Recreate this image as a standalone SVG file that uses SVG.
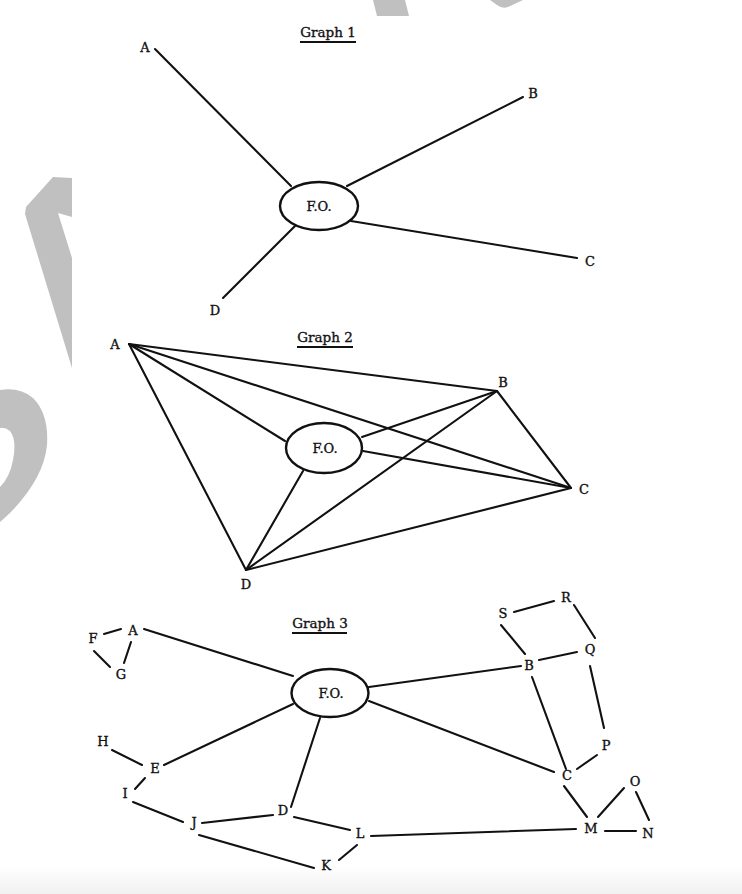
<svg xmlns="http://www.w3.org/2000/svg" width="742" height="894" viewBox="0 0 742 894">
<defs>
<linearGradient id="band" x1="0" y1="0" x2="0" y2="1">
<stop offset="0" stop-color="#ffffff"/>
<stop offset="1" stop-color="#f1f1f1"/>
</linearGradient>
</defs>
<style>
.lbl{font-family:"DejaVu Serif","Liberation Serif",serif;font-size:13px;fill:#111;stroke:#111;stroke-width:0.35;text-anchor:middle}
.ttl{font-family:"DejaVu Serif","Liberation Serif",serif;font-size:13.5px;fill:#111;stroke:#111;stroke-width:0.35;text-anchor:middle}
.ul{stroke:#111;stroke-width:2.2}
.e{stroke:#111;stroke-width:2.1;fill:none;stroke-linecap:round}
.fo{fill:#fff;stroke:#111;stroke-width:2.4}
.wm{fill:#c0c0c0}
</style>
<rect width="742" height="894" fill="#fff"/>
<rect x="0" y="866" width="742" height="28" fill="url(#band)"/>
<g id="watermark">
<polygon class="wm" points="373,0 405,0 409,16 377,16"/>
<path class="wm" d="M490,0 L523,0 L508,7 Q502,9 497,5 Z"/>
<polygon class="wm" points="25,214 26,207 53,177 72,178 72,217 58,213 72,258 72,368"/>
<path class="wm" d="M0,390 Q20,387 33,398 Q49,414 47,445 Q44,478 10,513 L0,522 L0,487 Q10,477 13,460 Q17,440 10,431 Q5,427 0,428 Z"/>
</g>
<g id="connectors">
<!-- Graph 1 -->
<line class="e" x1="155" y1="49" x2="291" y2="186"/>
<line class="e" x1="523" y1="97" x2="347" y2="186"/>
<line class="e" x1="351" y1="221" x2="577" y2="258"/>
<line class="e" x1="295" y1="226" x2="223" y2="298"/>
<!-- Graph 2 -->
<line class="e" x1="129" y1="344" x2="497" y2="391"/>
<line class="e" x1="129" y1="344" x2="571" y2="488"/>
<line class="e" x1="129" y1="344" x2="285" y2="441"/>
<line class="e" x1="129" y1="344" x2="246" y2="570"/>
<line class="e" x1="497" y1="391" x2="571" y2="488" stroke-width="3"/>
<line class="e" x1="497" y1="391" x2="362" y2="437"/>
<line class="e" x1="497" y1="391" x2="246" y2="570"/>
<line class="e" x1="363" y1="451" x2="571" y2="488"/>
<line class="e" x1="303" y1="471" x2="246" y2="570"/>
<line class="e" x1="246" y1="570" x2="571" y2="488"/>
<!-- Graph 3 -->
<line class="e" x1="104" y1="634" x2="121" y2="629"/>
<line class="e" x1="131" y1="642" x2="124" y2="663"/>
<line class="e" x1="94" y1="651" x2="110" y2="667"/>
<line class="e" x1="144" y1="629" x2="293" y2="676"/>
<line class="e" x1="369" y1="687" x2="521" y2="666"/>
<line class="e" x1="514" y1="612" x2="554" y2="601"/>
<line class="e" x1="574" y1="605" x2="595" y2="638"/>
<line class="e" x1="501" y1="625" x2="525" y2="654"/>
<line class="e" x1="539" y1="660" x2="577" y2="652"/>
<line class="e" x1="532" y1="677" x2="566" y2="769"/>
<line class="e" x1="590" y1="666" x2="604" y2="728"/>
<line class="e" x1="577" y1="769" x2="597" y2="755"/>
<line class="e" x1="369" y1="701" x2="554" y2="772"/>
<line class="e" x1="564" y1="786" x2="587" y2="817"/>
<line class="e" x1="598" y1="817" x2="624" y2="788"/>
<line class="e" x1="636" y1="792" x2="649" y2="820"/>
<line class="e" x1="605" y1="831" x2="636" y2="831"/>
<line class="e" x1="371" y1="836" x2="576" y2="829"/>
<line class="e" x1="320" y1="718" x2="291" y2="807"/>
<line class="e" x1="294" y1="817" x2="350" y2="830"/>
<line class="e" x1="202" y1="823" x2="273" y2="815"/>
<line class="e" x1="133" y1="802" x2="183" y2="822"/>
<line class="e" x1="145" y1="778" x2="135" y2="789"/>
<line class="e" x1="112" y1="750" x2="142" y2="765"/>
<line class="e" x1="164" y1="765" x2="293" y2="704"/>
<line class="e" x1="199" y1="835" x2="314" y2="868"/>
<line class="e" x1="339" y1="860" x2="357" y2="845"/>
</g>
<g id="graph1">
<g id="g1-title"><text class="ttl" x="328" y="37">Graph 1</text><line class="ul" x1="300" y1="42" x2="356" y2="42"/></g>
<g id="g1-FO"><ellipse class="fo" cx="319" cy="206" rx="39" ry="24"/><text class="lbl" x="319" y="211">F.O.</text></g>
<g id="g1-A"><text class="lbl" x="145" y="52">A</text></g>
<g id="g1-B"><text class="lbl" x="533" y="98">B</text></g>
<g id="g1-C"><text class="lbl" x="590" y="266">C</text></g>
<g id="g1-D"><text class="lbl" x="215" y="315">D</text></g>
</g>
<g id="graph2">
<g id="g2-title"><text class="ttl" x="325" y="342">Graph 2</text><line class="ul" x1="297" y1="347" x2="353" y2="347"/></g>
<g id="g2-FO"><ellipse class="fo" cx="324" cy="448" rx="38" ry="25"/><text class="lbl" x="325" y="453">F.O.</text></g>
<g id="g2-A"><text class="lbl" x="115" y="349">A</text></g>
<g id="g2-B"><text class="lbl" x="503" y="387">B</text></g>
<g id="g2-C"><text class="lbl" x="584" y="494">C</text></g>
<g id="g2-D"><text class="lbl" x="246" y="589">D</text></g>
</g>
<g id="graph3">
<g id="g3-title"><text class="ttl" x="320" y="628">Graph 3</text><line class="ul" x1="292" y1="633" x2="347" y2="633"/></g>
<g id="g3-FO"><ellipse class="fo" cx="330" cy="693" rx="38.5" ry="24"/><text class="lbl" x="331" y="698">F.O.</text></g>
<g id="g3-A"><text class="lbl" x="133" y="635">A</text></g>
<g id="g3-F"><text class="lbl" x="93" y="643">F</text></g>
<g id="g3-G"><text class="lbl" x="121" y="679">G</text></g>
<g id="g3-H"><text class="lbl" x="103" y="746">H</text></g>
<g id="g3-E"><text class="lbl" x="155" y="773">E</text></g>
<g id="g3-I"><text class="lbl" x="125" y="798">I</text></g>
<g id="g3-J"><text class="lbl" x="194" y="827">J</text></g>
<g id="g3-D"><text class="lbl" x="283" y="815">D</text></g>
<g id="g3-K"><text class="lbl" x="326" y="870">K</text></g>
<g id="g3-L"><text class="lbl" x="360" y="838">L</text></g>
<g id="g3-M"><text class="lbl" x="591" y="833">M</text></g>
<g id="g3-N"><text class="lbl" x="648" y="838">N</text></g>
<g id="g3-O"><text class="lbl" x="635" y="786">O</text></g>
<g id="g3-C"><text class="lbl" x="567" y="780">C</text></g>
<g id="g3-P"><text class="lbl" x="606" y="750">P</text></g>
<g id="g3-B"><text class="lbl" x="529" y="670">B</text></g>
<g id="g3-Q"><text class="lbl" x="590" y="654">Q</text></g>
<g id="g3-S"><text class="lbl" x="503" y="618">S</text></g>
<g id="g3-R"><text class="lbl" x="566" y="602">R</text></g>
</g>
</svg>
